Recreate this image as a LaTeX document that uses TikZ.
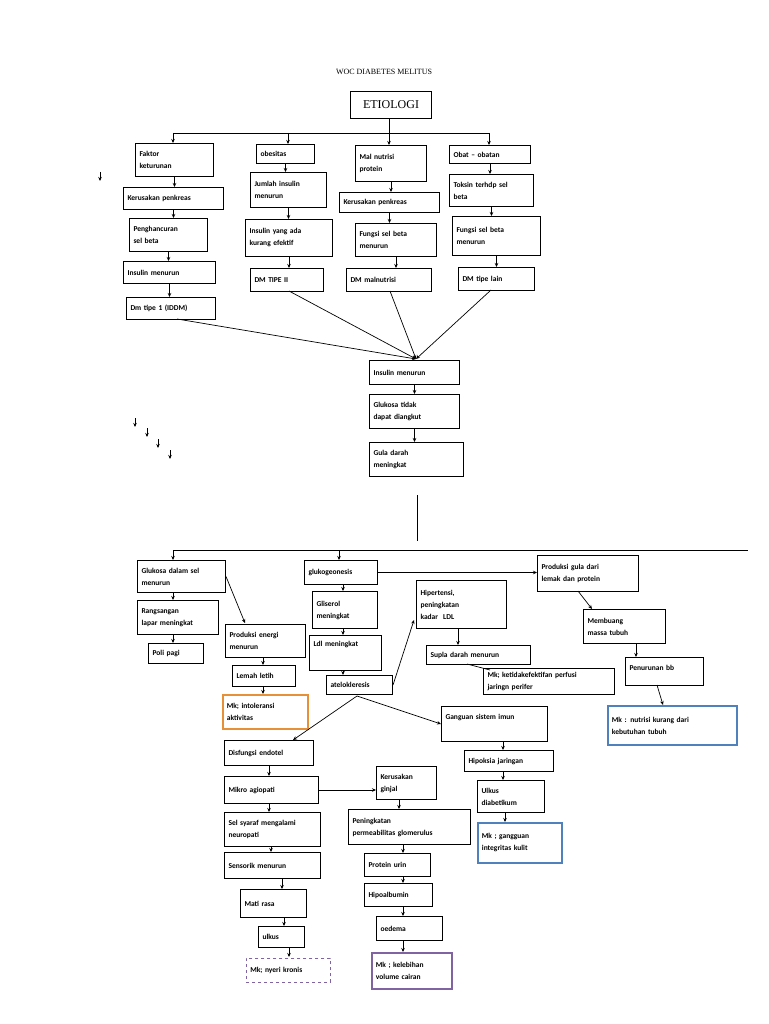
\documentclass[tikz,border=0pt]{standalone}
\usepackage{fontspec}
\setmainfont{Carlito}
\newfontfamily\serif{Liberation Serif}
\usetikzlibrary{arrows.meta}
\definecolor{orng}{RGB}{230,145,56}
\definecolor{blu}{RGB}{79,129,189}
\definecolor{purp}{RGB}{128,100,162}
\tikzset{
 box/.style={draw,line width=1pt,inner xsep=4pt,inner ysep=1pt,align=left,font=\fontsize{7.5}{12}\selectfont\bfseries},
 arr/.style={line width=0.7pt,-{Stealth[length=4pt,width=3.5pt]}},
 ln/.style={line width=0.7pt}
}
\newcommand\bx[7][]{\pgfmathsetmacro\bw{#5-#3}\pgfmathsetmacro\bh{#6-#4}\pgfmathsetmacro\tw{#5-#3-8}%
 \node[box,minimum width=\bw pt,minimum height=\bh pt,text width=\tw pt,anchor=north west,#1] (#2) at (#3,#4) {#7};}
\begin{document}
\begin{tikzpicture}[x=1pt,y=-1pt]
\useasboundingbox (0,0) rectangle (768,1024);
\node[font=\serif\fontsize{8}{9}\selectfont] (title) at (384,72) {WOC DIABETES MELITUS};
\node[draw,line width=1pt,minimum width=81pt,minimum height=27pt,anchor=north west,font=\serif\fontsize{12}{13}\selectfont,inner sep=3pt] (etio) at (350,91) {ETIOLOGI};
% column 1
\bx{c1a}{135}{143}{213}{176}{Faktor\\ keturunan}
\bx{c1b}{123}{187}{223}{209}{Kerusakan penkreas}
\bx{c1c}{129}{218}{207}{251}{Penghancuran\\ sel beta}
\bx{c1d}{123}{261}{215}{283}{Insulin menurun}
\bx{c1e}{126}{297}{215}{319}{Dm tipe 1 (IDDM)}
% column 2
\bx{c2a}{256}{144}{314}{163}{obesitas}
\bx{c2b}{250}{172}{326}{207}{Jumlah insulin\\ menurun}
\bx{c2c}{245}{219}{332}{256}{Insulin yang ada\\ kurang efektif}
\bx{c2d}{250}{268}{323}{291}{DM TIPE II}
% column 3
\bx{c3a}{355}{145}{426}{181}{Mal nutrisi\\ protein}
\bx{c3b}{339}{192}{439}{212}{Kerusakan penkreas}
\bx{c3c}{355}{223}{436}{256}{Fungsi sel beta\\ menurun}
\bx{c3d}{346}{268}{431}{291}{DM malnutrisi}
% column 4
\bx{c4a}{449}{145}{530}{163}{Obat -- obatan}
\bx{c4b}{449}{174}{533}{206}{Toksin terhdp sel\\ beta}
\bx{c4c}{452}{216}{540}{255}{Fungsi sel beta\\ menurun}
\bx{c4d}{458}{267}{534}{290}{DM tipe lain}
% top bar
\coordinate (b0) at (389,133);
\coordinate (bl) at (173,133);
\coordinate (br) at (489,133);
\draw[ln] (etio.south -| b0) -- (b0);
\draw[ln] (bl) -- (br);
\draw[arr] (bl) -- (bl |- c1a.north);
\draw[arr] (288,133) -- (288,144);
\draw[arr] (b0) -- (b0 |- c3a.north);
\draw[arr] (br) -- (br |- c4a.north);
\foreach \a/\b in {c1a/c1b,c1b/c1c,c1c/c1d,c1d/c1e,c2a/c2b,c2b/c2c,c2c/c2d,c3a/c3b,c3b/c3c,c3c/c3d,c4a/c4b,c4b/c4c,c4c/c4d}
  \draw[arr] (\a.south) -- (\a.south |- \b.north);
% converge
\coordinate (cv) at (416,359);
\draw[arr] (177,319) -- (cv);
\draw[arr] (289,291) -- (cv);
\draw[arr] (390,291) -- (cv);
\draw[arr] (491,290) -- (cv);
\bx{m1}{369}{360}{459}{384}{Insulin menurun}
\bx{m2}{369}{394}{459}{428}{Glukosa tidak\\ dapat diangkut}
\bx{m3}{369}{442}{463}{476}{Gula darah\\ meningkat}
\draw[arr] (m1.south) -- (m2.north);
\draw[arr] (m2.south) -- (m2.south |- m3.north);
% stray arrows
\foreach \i/\x/\y in {s1/100/172,s2/135/418,s3/147/428,s4/158/439,s5/170/450}{
  \coordinate (\i a) at (\x,\y); \coordinate (\i b) at (\x,\y+9);
  \draw[arr] (\i a) -- (\i b);}
% second bar
\coordinate (v1) at (417,495);
\coordinate (v2) at (417,541);
\draw[ln] (v1) -- (v2);
\coordinate (l0) at (173,550);
\coordinate (l1) at (748,550);
\draw[ln] (l0) -- (l1);
\bx{g1}{137}{560}{225}{592}{Glukosa dalam sel\\ menurun}
\bx{g2}{137}{600}{218}{634}{Rangsangan\\ lapar meningkat}
\bx{g3}{148}{643}{203}{663}{Poli pagi}
\bx{p1}{225}{624}{305}{657}{Produksi energi\\ menurun}
\bx{p2}{232}{665}{295}{686}{Lemah letih}
\bx[draw=orng,line width=1.6pt]{p3}{222}{694}{307}{728}{Mk; intoleransi\\ aktivitas}
\draw[arr] (l0) -- (l0 |- g1.north);
\draw[arr] (g1.south -| 173,0) -- (173,600);
\draw[arr] (g2.south -| 173,0) -- (173,643);
\draw[arr] (g1.east) -- (245,623);
\draw[arr] (p1.south -| 263,0) -- (263,665);
\draw[arr] (p2.south -| 263,0) -- (263,694);
\bx{k1}{304}{560}{377}{584}{glukogeonesis}
\bx{k2}{312}{591}{377}{628}{Gliserol\\ meningkat}
\bx[text depth=18pt]{k3}{309}{635}{381}{670}{Ldl meningkat}
\bx{k4}{326}{675}{392}{694}{atelokleresis}
\draw[arr] (339,550) -- (339,560);
\draw[arr] (k1.south -| 343,0) -- (343,591);
\draw[arr] (k2.south -| 343,0) -- (343,635);
\draw[arr] (k3.south -| 343,0) -- (343,675);
\bx{h1}{416}{580}{506}{628}{Hipertensi,\\ peningkatan\\ kadar\ \ LDL}
\bx{h2}{426}{645}{530}{664}{Supla darah menurun}
\bx{h3}{483}{668}{614}{694}{Mk; ketidakefektifan perfusi\\ jaringn perifer}
\draw[arr] (k4.east) -- (414,620);
\draw[arr] (h1.south -| 458,0) -- (458,645);
\draw[ln] (467,664) -- (490,670);
\bx[text depth=14pt]{i1}{441}{706}{547}{741}{Ganguan sistem imun}
\bx{i2}{464}{750}{553}{771}{Hipoksia jaringan}
\bx{i3}{477}{780}{544}{812}{Ulkus\\ diabetikum}
\bx[draw=blu,line width=1.8pt]{i4}{477}{822}{561}{862}{Mk ; gangguan\\ integritas kulit}
\draw[arr] (357,696) -- (i1.west);
\draw[arr] (i1.south -| 503,0) -- (503,750);
\draw[arr] (i2.south -| 503,0) -- (503,780);
\draw[arr] (i3.south -| 505,0) -- (505,822);
\bx{r1}{537}{555}{638}{591}{Produksi gula dari\\ lemak dan protein}
\bx{r2}{583}{609}{665}{643}{Membuang\\ massa tubuh}
\bx[text depth=8pt]{r3}{625}{657}{703}{685}{Penurunan bb}
\bx[draw=blu,line width=1.8pt]{r4}{607}{705}{736}{744}{Mk : nutrisi kurang dari\\ kebutuhan tubuh}
\draw[arr] (k1.east) -- (r1.west |- k1.east);
\draw[arr] (578,591) -- (592,609);
\draw[arr] (r2.south -| 636,0) -- (636,657);
\draw[arr] (657,685) -- (663,705);
\bx{d1}{224}{740}{313}{765}{Disfungsi endotel}
\bx{d2}{224}{776}{318}{803}{Mikro agiopati}
\bx{d3}{224}{812}{320}{846}{Sel syaraf mengalami\\ neuropati}
\bx{d4}{224}{852}{320}{878}{Sensorik menurun}
\bx{d5}{240}{889}{306}{917}{Mati rasa}
\bx{d6}{258}{926}{304}{947}{ulkus}
\bx[draw=purp,dashed,line width=0.6pt]{d7}{246}{958}{330}{982}{Mk; nyeri kronis}
\draw[arr] (357,696) -- (293,740);
\draw[arr] (d1.south -| 269,0) -- (269,776);
\draw[arr] (d2.south -| 269,0) -- (269,812);
\draw[arr] (d3.south -| 271,0) -- (271,852);
\draw[arr] (d4.south -| 282,0) -- (282,889);
\draw[arr] (d5.south -| 284,0) -- (284,926);
\coordinate (d7t) at (289,957);
\draw[arr] (289,947) -- (d7t);
\bx{n1}{376}{766}{436}{799}{Kerusakan\\ ginjal}
\bx{n2}{348}{809}{470}{844}{Peningkatan\\ permeabilitas glomerulus}
\bx{n3}{364}{853}{430}{876}{Protein urin}
\bx{n4}{364}{883}{432}{906}{Hipoalbumin}
\bx{n5}{376}{916}{442}{940}{oedema}
\bx[draw=purp,line width=1.8pt]{n6}{371}{952}{451}{988}{Mk ; kelebihan\\ volume cairan}
\draw[arr] (d2.east) -- (n1.west |- d2.east);
\draw[arr] (n1.south -| 399,0) -- (399,809);
\draw[arr] (n2.south -| 403,0) -- (403,853);
\draw[arr] (n3.south -| 403,0) -- (403,883);
\draw[arr] (n4.south -| 403,0) -- (403,916);
\draw[arr] (n5.south -| 403,0) -- (403,952);
\end{tikzpicture}
\end{document}
